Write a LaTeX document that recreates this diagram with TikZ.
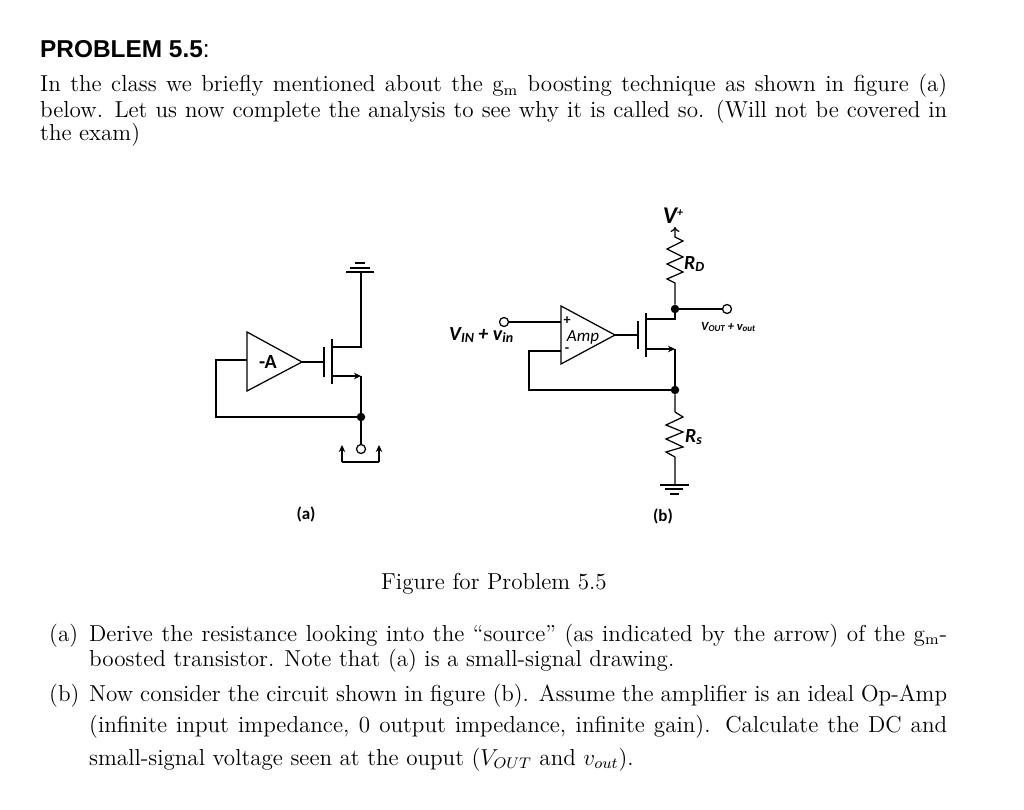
\documentclass[tikz,border=0pt]{standalone}
\usepackage{graphicx}
\usepackage{fontspec}
\setsansfont{Carlito}
\newfontfamily\headfont{Liberation Sans}
\usetikzlibrary{arrows.meta,calc}
\tikzset{
  wire/.style={line width=1.25pt,line join=miter},
  term/.style={circle,draw,line width=1.25pt,fill=white,minimum size=9pt,inner sep=0pt},
  junct/.style={circle,fill=black,minimum size=8.5pt,inner sep=0pt},
  body/.style={anchor=base west,inner sep=0pt},
  lab/.style={inner sep=0pt},
  tip/.style={-{Stealth[length=7pt,width=6.5pt]}},
  openin/.style={-{To[length=5pt,width=9pt]}}
}
\newcommand{\bodyscale}{1.925}
\newcommand{\bt}[1]{\scalebox{\bodyscale}{\fontsize{12}{14}\selectfont #1}}
\begin{document}
\begin{tikzpicture}[x=1pt,y=-1pt]
\useasboundingbox (0,0) rectangle (1024,810);
\fill[white] (0,0) rectangle (1024,810);
% --- text ---
\node[body,font=\headfont\fontsize{24.4}{26}\selectfont] (head) at (40,58) {\textbf{PROBLEM 5.5}:};
\node[body] (l1) at (40,92) {\bt{\hbox to 471.2pt{In the class we briefly mentioned about the g$_{\mathrm{m}}$ boosting technique as shown in figure (a)}}};
\node[body] (l2) at (40,118) {\bt{\hbox to 471.2pt{below. Let us now complete the analysis to see why it is called so. (Will not be covered in}}};
\node[body] (l3) at (40,141) {\bt{the exam)}};
\node[body,anchor=base] (cap) at (494,589) {\bt{Figure for Problem 5.5}};
\node[body] (a0) at (49,641) {\bt{(a)}};
\node[body] (a1) at (89,641) {\bt{\hbox to 445.7pt{Derive the resistance looking into the ``source'' (as indicated by the arrow) of the g$_{\mathrm{m}}$-}}};
\node[body] (a2) at (89,666) {\bt{boosted transistor. Note that (a) is a small-signal drawing.}};
\node[body] (b0) at (49,701) {\bt{(b)}};
\node[body] (b1) at (89,701) {\bt{\hbox to 445.7pt{Now consider the circuit shown in figure (b). Assume the amplifier is an ideal Op-Amp}}};
\node[body] (b2) at (89,732) {\bt{\hbox to 445.7pt{(infinite input impedance, 0 output impedance, infinite gain). Calculate the DC and}}};
\node[body] (b3) at (89,765) {\bt{small-signal voltage seen at the ouput ($V_{OUT}$ and $v_{out}$).}};
% --- circuit (a) ---
\coordinate (aT1) at (247,332); \coordinate (aT2) at (247,391); \coordinate (aT3) at (302,362);
\draw[wire] (aT1) -- (aT2) -- (aT3) -- cycle;
\node[lab,font=\sffamily\bfseries\fontsize{20}{20}\selectfont] (aA) at (268,362) {-A};
\coordinate (aG) at (324,362);
\draw[wire] (aT3) -- (aG);
\draw[wire] (324,347) -- (324,377);
\draw[wire] (332,339) -- (332,384);
\coordinate (aD) at (361,347); \coordinate (aS) at (361,376);
\coordinate (aGnd) at (361,272);
\draw[wire] (332,347) -- (aD) -- (aGnd);
\draw[wire] (346,272) -- (374,272);
\draw[wire] (350,268) -- (370,268);
\draw[wire] (355,263) -- (365,263);
\draw[wire,tip] (332,376) -- (aS);
\node[junct] (aJ) at (361,417) {};
\node[term] (aOut) at (361,449) {};
\draw[wire] (aS) -- (aJ);
\draw[wire] (aJ) -- (aOut);
\draw[wire] (247,360) -- (216,360) -- (216,417) -- (aJ);
\coordinate (aL) at (342,445); \coordinate (aR) at (379,445);
\draw[wire,tip] (342,462) -- (aL);
\draw[wire,tip] (379,462) -- (aR);
\draw[wire] (342,462) -- (379,462);
\node[inner sep=0pt,font=\sffamily\bfseries\fontsize{17}{17}\selectfont] (aCap) at (306,514) {(a)};
% --- circuit (b) ---
\coordinate (bT1) at (561,306); \coordinate (bT2) at (561,364); \coordinate (bT3) at (615,335);
\draw[wire] (bT1) -- (bT2) -- (bT3) -- cycle;
\node[lab,font=\sffamily\itshape\fontsize{17}{17}\selectfont] (bA) at (583,337) {Amp};
\node[inner sep=0pt,font=\sffamily\bfseries\fontsize{14}{14}\selectfont] (bP) at (567,321) {+};
\node[inner sep=0pt,font=\sffamily\bfseries\fontsize{14}{14}\selectfont] (bM) at (567,350) {-};
\draw[wire] (bT3) -- (638,335);
\draw[wire] (638,321) -- (638,349);
\draw[wire] (646,313) -- (646,357);
\node[junct] (bJ1) at (675,309) {};
\node[junct] (bJ2) at (675,390) {};
\coordinate (bD) at (675,319); \coordinate (bS) at (675,349);
\draw[wire] (646,319) -- (bD) -- (bJ1);
\draw[wire,tip] (646,349) -- (bS);
\draw[wire] (bS) -- (bJ2);
\draw[wire] (561,351) -- (529,351) -- (529,390) -- (bJ2);
\node[term] (bOut) at (727,309) {};
\draw[wire] (bJ1) -- (bOut);
\node[term] (bIn) at (504,322) {};
\draw[wire] (bIn) -- (561,322);
% RD
\coordinate (bVp) at (675,227);
\draw[wire,openin] (bJ1) -- (675,283) -- (667,279) -- (683,272) -- (667,264) -- (683,257) -- (667,249) -- (683,241) -- (675,237) -- (bVp);
% RS
\coordinate (bGnd) at (675,485);
\draw[wire] (bJ2) -- (675,412) -- (683,417) -- (666,425) -- (683,432) -- (666,439) -- (683,447) -- (666,452) -- (675,457) -- (bGnd);
\draw[wire] (660,485) -- (689,485);
\draw[wire] (665,489) -- (683,489);
\draw[wire] (670,494) -- (679,494);
\node[lab,font=\sffamily\bfseries\itshape\fontsize{24}{24}\selectfont] (bV) at (673,216) {V\raisebox{7pt}{\fontsize{12}{12}\selectfont +}};
\node[lab,font=\sffamily\bfseries\itshape\fontsize{20}{20}\selectfont,anchor=west] (bRD) at (684,264) {R\raisebox{-2pt}{\fontsize{14}{14}\selectfont D}};
\node[lab,font=\sffamily\bfseries\itshape\fontsize{20}{20}\selectfont,anchor=west] (bRS) at (685,437) {R\raisebox{-2pt}{\fontsize{14}{14}\selectfont s}};
\node[lab,font=\sffamily\bfseries\itshape\fontsize{20}{20}\selectfont,anchor=west] (bVin) at (449,335) {V\raisebox{-2pt}{\fontsize{14}{14}\selectfont IN} + v\raisebox{-2pt}{\fontsize{14}{14}\selectfont in}};
\node[lab,font=\sffamily\bfseries\itshape\fontsize{12.5}{13}\selectfont,anchor=west] (bVout) at (701,327) {V\raisebox{-1pt}{\fontsize{9}{9}\selectfont OUT} + v\raisebox{-1pt}{\fontsize{9}{9}\selectfont out}};
\node[inner sep=0pt,font=\sffamily\bfseries\fontsize{17}{17}\selectfont] (bCap) at (663,516) {(b)};
\end{tikzpicture}
\end{document}
